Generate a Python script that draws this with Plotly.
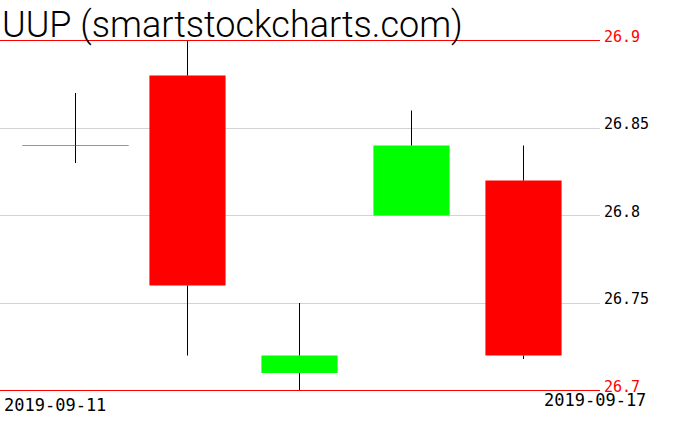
import plotly.graph_objects as go

# UUP daily bars
dates = ["2019-09-11", "2019-09-12", "2019-09-13", "2019-09-16", "2019-09-17"]
opens = [26.84, 26.88, 26.71, 26.80, 26.82]
highs = [26.87, 26.90, 26.75, 26.86, 26.84]
lows = [26.83, 26.72, 26.70, 26.80, 26.718]
closes = [26.84, 26.76, 26.72, 26.84, 26.72]

grid_vals = [26.75, 26.8, 26.85]
title = "UUP (smartstockcharts.com)"

UP = "#00ff00"
DOWN = "#ff0000"
MONO = "DejaVu Sans Mono"

top = [max(o, c) for o, c in zip(opens, closes)]
bot = [min(o, c) for o, c in zip(opens, closes)]
colors = [UP if c >= o else DOWN for o, c in zip(opens, closes)]

hi = max(highs)
lo = min(lows)

fig = go.Figure()

# bodies
fig.add_trace(go.Bar(
    x=dates, y=[t - b for t, b in zip(top, bot)], base=bot,
    width=0.68, marker=dict(color=colors, line=dict(width=0)),
    hoverinfo="skip",
))

# flat bodies (open == close) drawn as a horizontal tick
flat = [i for i in range(len(dates)) if opens[i] == closes[i]]
fig.add_trace(go.Scatter(
    x=[dates[i] for i in flat], y=[closes[i] for i in flat], mode="markers",
    marker=dict(symbol="line-ew", size=76, line=dict(color=UP, width=1)),
    hoverinfo="skip",
))

# wicks
wx, wy = [], []
for d, h, l, t, b in zip(dates, highs, lows, top, bot):
    wx += [d, d, None, d, d, None]
    wy += [h, t, None, b, l, None]
fig.add_trace(go.Scatter(
    x=wx, y=wy, mode="lines", line=dict(color="black", width=1),
    hoverinfo="skip",
))

tickvals = [lo] + grid_vals + [hi]
ticktext = ['<span style="color:red">%g</span>' % lo] + ["%g" % v for v in grid_vals] + \
           ['<span style="color:red">%g</span>' % hi]

# pad the y range by 1.5 px so the hi/lo lines land on whole pixels
pad = 1.5 * (hi - lo) / 350

# 112 px per bar slot, first bar centred at 75.5 px
fig.update_layout(
    width=676, height=431,
    margin=dict(l=0, r=76, t=39, b=39),
    paper_bgcolor="white", plot_bgcolor="white",
    showlegend=False,
    xaxis=dict(type="category", range=[-75.5 / 112, (600 - 75.5) / 112],
               showticklabels=False, showgrid=False, zeroline=False, ticks=""),
    yaxis=dict(side="right", range=[lo - pad, hi + pad], tickvals=tickvals, ticktext=ticktext,
               showgrid=True, gridcolor="#d3d3d3", gridwidth=1, zeroline=False,
               ticks="", ticklabelshift=-4, ticklabelstandoff=3,
               tickfont=dict(family=MONO, size=15, color="black")),
)

for y in [hi, lo]:
    fig.add_shape(type="line", xref="paper", x0=0, x1=1, yref="y", y0=y, y1=y,
                  line=dict(color="red", width=1), layer="above")

fig.add_annotation(text=title, xref="paper", yref="paper", x=0, y=1, yshift=-9,
                   xanchor="left", yanchor="bottom", showarrow=False,
                   font=dict(family="Roboto", size=36, weight=300, color="black"))

fig.add_annotation(text=dates[0], xref="paper", yref="paper", x=0, y=0, xshift=2, yshift=-1,
                   xanchor="left", yanchor="top", showarrow=False,
                   font=dict(family=MONO, size=17, color="black"))
fig.add_annotation(text=dates[-1], xref="paper", yref="paper", x=1, y=0, xshift=48, yshift=4,
                   xanchor="right", yanchor="top", showarrow=False,
                   font=dict(family=MONO, size=17, color="black"))

fig.write_html("out.html", config={"displayModeBar": False},
               post_script="document.body.style.margin='0';")
